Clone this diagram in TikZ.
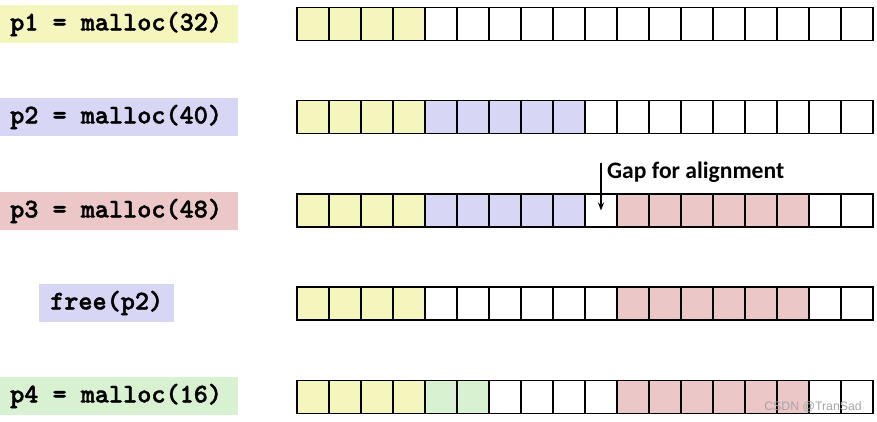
\documentclass[tikz,border=0pt]{standalone}
\usepackage{fontspec}
\usetikzlibrary{arrows.meta}
\newfontfamily\codefont{lmmonolt10-bold}[Extension=.otf, FakeBold=1.6]
\newfontfamily\notefont{Carlito}
\newfontfamily\markfont{Liberation Sans}
\newcommand\wsp{\hspace{0.525em}}
\definecolor{allocA}{RGB}{245,245,190}
\definecolor{allocB}{RGB}{215,215,245}
\definecolor{allocC}{RGB}{235,199,199}
\definecolor{allocD}{RGB}{216,241,209}
\tikzset{
  cell/.style={draw=black, line width=1.2pt, minimum width=32pt, minimum height=33pt, inner sep=0pt},
  call/.style={anchor=west, text width=218pt, align=left, inner xsep=10pt, inner ysep=0pt, minimum height=38pt,
    font=\codefont\fontsize{26.9}{30}\selectfont},
  gaparrow/.style={line width=1.5pt, -{Stealth[length=8pt,width=6pt]}}
}
\begin{document}
\begin{tikzpicture}[x=1pt,y=-1pt]
  \useasboundingbox (0,0) rectangle (877,421);
  \node[call, fill=allocA] (call1) at (0,24) {p1\wsp=\wsp malloc(32)};
  \node[call, fill=allocB] (call2) at (0,117) {p2\wsp=\wsp malloc(40)};
  \node[call, fill=allocC] (call3) at (0,211) {p3\wsp=\wsp malloc(48)};
  \node[call, fill=allocB, text width=, inner xsep=11pt] (call4) at (39,303) {free(p2)};
  \node[call, fill=allocD] (call5) at (0,396) {p4\wsp=\wsp malloc(16)};
  \foreach \r/\yy/\cols in {
      1/24/{allocA,allocA,allocA,allocA,white,white,white,white,white,white,white,white,white,white,white,white,white,white},
      2/117/{allocA,allocA,allocA,allocA,allocB,allocB,allocB,allocB,allocB,white,white,white,white,white,white,white,white,white},
      3/210.5/{allocA,allocA,allocA,allocA,allocB,allocB,allocB,allocB,allocB,white,allocC,allocC,allocC,allocC,allocC,allocC,white,white},
      4/303.5/{allocA,allocA,allocA,allocA,white,white,white,white,white,white,allocC,allocC,allocC,allocC,allocC,allocC,white,white},
      5/397/{allocA,allocA,allocA,allocA,allocD,allocD,white,white,white,white,allocC,allocC,allocC,allocC,allocC,allocC,white,white}}
    \foreach \c [count=\i from 0] in \cols
      \node[cell, fill=\c] (c\r-\i) at (313+32*\i,\yy) {};
  \node[anchor=base west, inner sep=0pt, font=\notefont\bfseries\fontsize{23.6}{28}\selectfont] (gaplabel) at (607,178) {Gap for alignment};
  \coordinate (gaptop) at (601,163);
  \draw[gaparrow] (gaptop) -- (c3-9.center);
  \node[anchor=base east, inner sep=0pt, text=gray!70, font=\markfont\fontsize{12.3}{14}\selectfont] (mark) at (862,410) {CSDN @TranSad};
\end{tikzpicture}
\end{document}
